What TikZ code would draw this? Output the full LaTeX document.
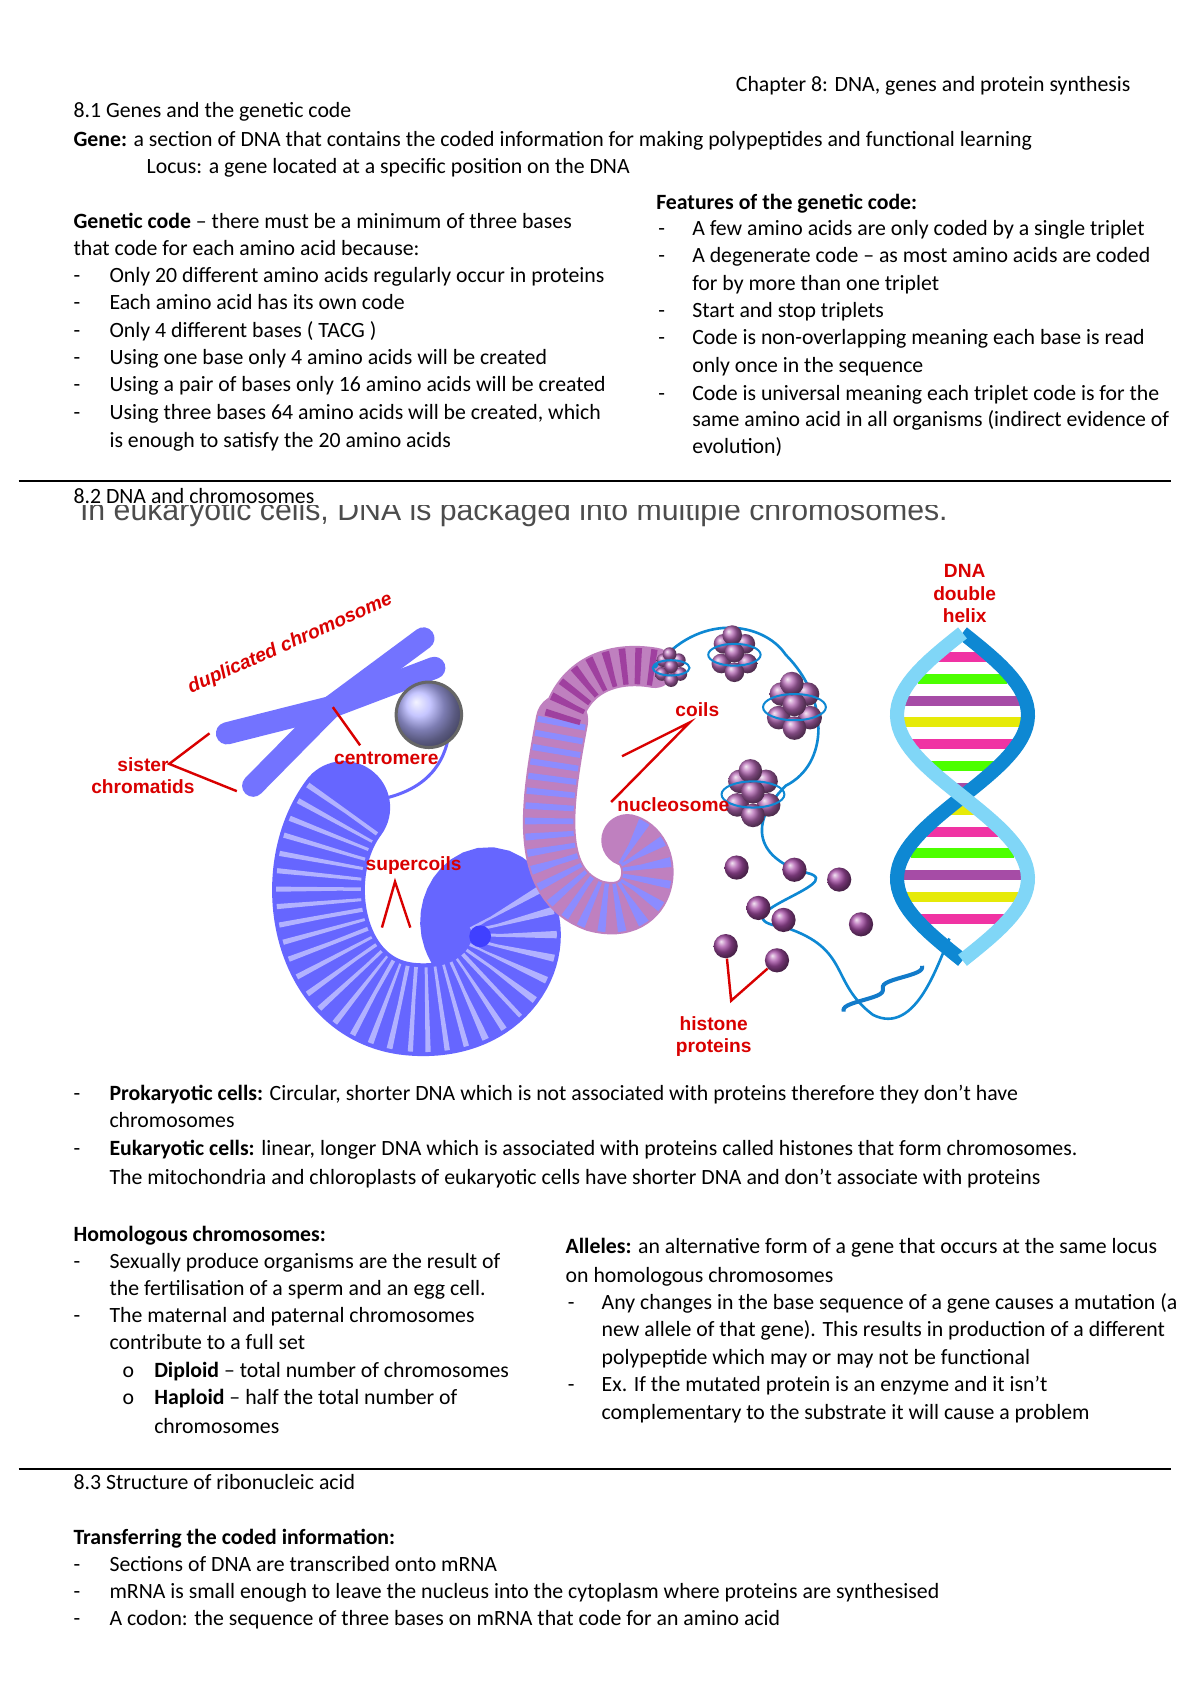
\documentclass[tikz,border=0pt]{standalone}
\usepackage{fontspec}
\setmainfont{Carlito}
\newfontfamily\lab{Liberation Sans}
\colorlet{rc0}{yellow!90!green}
\colorlet{rc1}{magenta!80}
\colorlet{rc2}{green!70!yellow}
\colorlet{rc3}{violet!70}
\begin{document}
\begin{tikzpicture}[x=0.541pt,y=-0.541pt,
  t/.style={anchor=base west,inner sep=0,font=\fontsize{10.8}{13}\selectfont},
  rl/.style={text=red!85!black,font=\lab\bfseries\fontsize{9.5}{11}\selectfont,inner sep=0,align=center},
  rline/.style={red!85!black,line width=1.2pt},
  arm/.style={line width=11pt,line cap=round,blue!55},
  hist/.style={circle,ball color=violet!70,minimum size=12pt,inner sep=0}]
\useasboundingbox (0,0) rectangle (1100,1556);
\fill[white] (0,0) rectangle (1100,1556);
% header
\node[t] (h) at (674,84) {Chapter 8: DNA, genes and protein synthesis};
\node[t] (s1) at (67,108) {8.1 Genes and the genetic code};
\node[t] (g) at (67,134) {\textbf{Gene:} a section of DNA that contains the coded information for making polypeptides and functional learning};
\node[t] (lo) at (134,159) {Locus: a gene located at a specific position on the DNA};
\node[t] (gc1) at (67,209) {\textbf{Genetic code} -- there must be a minimum of three bases};
\node[t] (gc2) at (67,234) {that code for each amino acid because:};
\foreach \y/\s in {259/Only 20 different amino acids regularly occur in proteins,284/Each amino acid has its own code,309/{Only 4 different bases ( TACG )},334/Using one base only 4 amino acids will be created,359/Using a pair of bases only 16 amino acids will be created,384/{Using three bases 64 amino acids will be created, which}}
 {\node[t] at (67,\y) {-}; \node[t] at (100,\y) {\s};}
\node[t] (gc9) at (100,410) {is enough to satisfy the 20 amino acids};
\node[t] (f0) at (601,192) {\textbf{Features of the genetic code:}};
\foreach \y/\s in {216/A few amino acids are only coded by a single triplet,241/A degenerate code -- as most amino acids are coded,291/Start and stop triplets,316/Code is non-overlapping meaning each base is read,367/Code is universal meaning each triplet code is for the}
 {\node[t] at (603,\y) {-}; \node[t] at (634,\y) {\s};}
\node[t] at (634,266) {for by more than one triplet};
\node[t] at (634,341) {only once in the sequence};
\node[t] at (634,391) {same amino acid in all organisms (indirect evidence of};
\node[t] at (634,416) {evolution)};
\draw[line width=1pt] (17,441) -- (1073,441);
% image header (clipped)
\begin{scope}
\clip (60,463) rectangle (900,490);
\node[anchor=base west,inner sep=0,text=black!70,font=\lab\fontsize{15}{17}\selectfont] (ih) at (73,477) {In eukaryotic cells, DNA is packaged into multiple chromosomes.};
\end{scope}
\node[t] (s2) at (67,461) {8.2 DNA and chromosomes};
% ---------- illustration ----------
% supercoil
\draw[line width=46pt,blue!60,line cap=round] (315,740) .. controls (270,800) and (290,920) .. (380,925) .. controls (460,930) and (490,860) .. (460,825) .. controls (440,805) and (415,840) .. (435,865);
\draw[line width=42pt,blue!30!white,dash pattern=on 2pt off 5pt] (315,740) .. controls (270,800) and (290,920) .. (380,925) .. controls (460,930) and (490,860) .. (460,825);
\fill[blue!75] (440,858) circle (10);
\draw[blue!60,line width=1.5pt] (330,735) .. controls (390,730) and (405,700) .. (410,680);
% coils
\draw[line width=26pt,violet!50,line cap=round] (515,660) .. controls (500,740) and (490,810) .. (545,830) .. controls (600,845) and (605,780) .. (575,770);
\draw[line width=20pt,violet!50,line cap=round] (515,660) .. controls (525,620) and (560,605) .. (600,612);
\draw[line width=24pt,blue!45,dash pattern=on 3pt off 4pt] (515,660) .. controls (500,740) and (490,810) .. (545,830) .. controls (600,845) and (605,780) .. (575,770);
\draw[line width=18pt,violet!75,dash pattern=on 3pt off 4pt] (515,660) .. controls (525,620) and (560,605) .. (600,612);
% linker DNA
\draw[cyan!70!blue,line width=1.3pt] (600,612) .. controls (640,560) and (700,570) .. (720,600) .. controls (760,640) and (760,700) .. (720,720) .. controls (680,760) and (700,790) .. (740,800) .. controls (780,810) and (650,840) .. (720,850) .. controls (780,870) and (760,900) .. (800,930) .. controls (840,950) and (860,880) .. (870,860);
% nucleosome clusters
\foreach \cx/\cy/\s in {673/600/1,728/648/1.2,690/728/1.2,615/612/0.7}
 {\begin{scope}[shift={(\cx,\cy)},scale=\s]
  \foreach \dx/\dy in {-10/-10,10/-10,-12/8,12/8,0/-2,0/16,-2/-18}
   \shade[ball color=violet!60] (\dx,\dy) circle (9);
  \draw[cyan!70!blue,line width=1pt] (0,0) ellipse (24 and 10);
  \end{scope}}
% histones
\foreach \n/\hx/\hy in {h1/675/795,h2/728/797,h3/769/806,h4/695/832,h5/718/843,h6/789/847,h7/665/867,h8/712/880}
  \node[hist] (\n) at (\hx,\hy) {};
% double helix
\foreach \i in {0,...,13}{
  \pgfmathsetmacro\yy{582+\i*20}
  \pgfmathsetmacro\xa{882+55*sin(\i*20*1.2)}
  \pgfmathsetmacro\xb{882-55*sin(\i*20*1.2)}
  \pgfmathtruncatemacro\cc{mod(\i,4)}
  \draw[line width=5pt,rc\cc] (\xa,\yy) -- (\xb,\yy);}
\draw[cyan!70!blue,line width=7pt,domain=0:300,samples=60] plot ({882+60*sin(\x*1.2)},{580+\x});
\draw[cyan!50!white,line width=7pt,domain=0:300,samples=60] plot ({882-60*sin(\x*1.2)},{580+\x});
\draw[cyan!60!blue,line width=2pt,domain=0:60,samples=30] plot ({845-\x*1.2+6*sin(\x*12)},{885+\x*0.7});
% chromosome
\coordinate (cc) at (303,648);
\draw[arm] (cc) -- (208,672);
\draw[arm] (cc) -- (232,720);
\draw[arm] (cc) -- (388,585);
\draw[arm] (cc) -- (398,612);
\shade[ball color=blue!30] (393,655) circle (30);
\draw[black!60,line width=1.5pt] (393,655) circle (30);
% labels
\node[rl] (ldna) at (884,544) {DNA\\double\\helix};
\node[rl,rotate=24,font=\lab\bfseries\itshape\fontsize{9.5}{11}\selectfont] (ldup) at (266,590) {duplicated chromosome};
\node[rl] (lsis) at (131,711) {sister\\chromatids};
\node[rl] (lcen) at (354,695) {centromere};
\node[rl] (lcoi) at (639,650) {coils};
\node[rl] (lnuc) at (617,737) {nucleosome};
\node[rl] (lsup) at (379,793) {supercoils};
\node[rl] (lhis) at (654,950) {histone\\proteins};
\coordinate (sa) at (155,700); \coordinate (s1e) at (192,672); \coordinate (s2e) at (217,725);
\draw[rline] (s1e) -- (sa) -- (s2e);
\coordinate (ce) at (305,648); \coordinate (cb) at (330,683); \draw[rline] (cb) -- (ce);
\coordinate (ca) at (632,662); \coordinate (c1) at (570,693); \coordinate (c2) at (560,735);
\draw[rline] (c1) -- (ca) -- (c2);
\coordinate (su1) at (350,850); \coordinate (sua) at (362,808); \coordinate (su2) at (376,850);
\draw[rline] (su1) -- (sua) -- (su2);
\coordinate (hia) at (670,917);
\draw[rline] (h7) -- (hia) -- (h8);
% bottom text
\node[t] at (67,1008) {-}; \node[t] at (100,1008) {\textbf{Prokaryotic cells:} Circular, shorter DNA which is not associated with proteins therefore they don’t have};
\node[t] at (100,1033) {chromosomes};
\node[t] at (67,1059) {-}; \node[t] at (100,1059) {\textbf{Eukaryotic cells:} linear, longer DNA which is associated with proteins called histones that form chromosomes.};
\node[t] at (100,1085) {The mitochondria and chloroplasts of eukaryotic cells have shorter DNA and don’t associate with proteins};
\node[t] at (67,1138) {\textbf{Homologous chromosomes:}};
\node[t] at (67,1162) {-}; \node[t] at (100,1162) {Sexually produce organisms are the result of};
\node[t] at (100,1187) {the fertilisation of a sperm and an egg cell.};
\node[t] at (67,1212) {-}; \node[t] at (100,1212) {The maternal and paternal chromosomes};
\node[t] at (100,1237) {contribute to a full set};
\node[t] at (112,1262) {o}; \node[t] at (141,1262) {\textbf{Diploid} -- total number of chromosomes};
\node[t] at (112,1287) {o}; \node[t] at (141,1287) {\textbf{Haploid} -- half the total number of};
\node[t] at (141,1314) {chromosomes};
\node[t] at (518,1149) {\textbf{Alleles:} an alternative form of a gene that occurs at the same locus};
\node[t] at (518,1175) {on homologous chromosomes};
\node[t] at (520,1200) {-}; \node[t] at (551,1200) {Any changes in the base sequence of a gene causes a mutation (a};
\node[t] at (551,1225) {new allele of that gene). This results in production of a different};
\node[t] at (551,1250) {polypeptide which may or may not be functional};
\node[t] at (520,1275) {-}; \node[t] at (551,1275) {Ex. If the mutated protein is an enzyme and it isn’t};
\node[t] at (551,1301) {complementary to the substrate it will cause a problem};
\draw[line width=1pt] (17,1346) -- (1073,1346);
\node[t] at (67,1365) {8.3 Structure of ribonucleic acid};
\node[t] at (67,1415) {\textbf{Transferring the coded information:}};
\node[t] at (67,1440) {-}; \node[t] at (100,1440) {Sections of DNA are transcribed onto mRNA};
\node[t] at (67,1465) {-}; \node[t] at (100,1465) {mRNA is small enough to leave the nucleus into the cytoplasm where proteins are synthesised};
\node[t] at (67,1490) {-}; \node[t] at (100,1490) {A codon: the sequence of three bases on mRNA that code for an amino acid};
\end{tikzpicture}
\end{document}
